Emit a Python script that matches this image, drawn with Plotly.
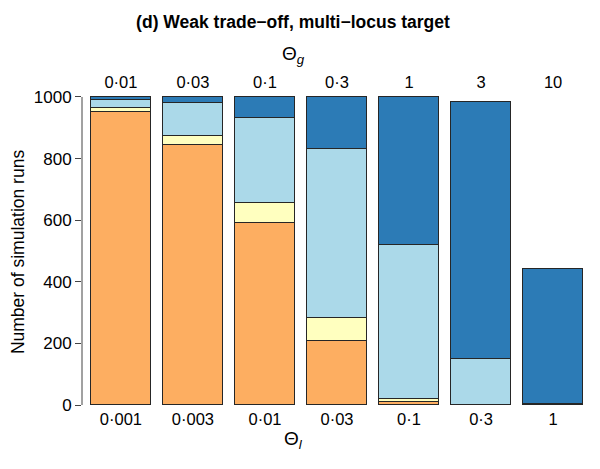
import plotly.graph_objects as go

theta_l = ["0·001", "0·003", "0·01", "0·03", "0·1", "0·3", "1"]
theta_g = ["0·01", "0·03", "0·1", "0·3", "1", "3", "10"]

orange = [950, 845, 590, 209, 10, 0, 0]
yellow = [13, 27, 65, 72, 8, 0, 0]
lightblue = [27, 108, 278, 549, 503, 149, 3]
darkblue = [10, 20, 67, 170, 479, 834, 437]

series = [
    ("orange", orange, "#FDAE61"),
    ("yellow", yellow, "#FFFFBF"),
    ("lightblue", lightblue, "#ABD9E9"),
    ("darkblue", darkblue, "#2C7BB6"),
]

xpos = list(range(len(theta_l)))
FONT = "Liberation Sans, Arial, Helvetica, sans-serif"

fig = go.Figure()
for name, vals, col in series:
    fig.add_trace(go.Bar(
        x=xpos, y=vals, name=name, width=0.833,
        marker=dict(color=col, line=dict(color="#262626", width=1)),
        showlegend=False, hoverinfo="skip",
    ))

# invisible helper trace so the top (Theta_g) axis is drawn
fig.add_trace(go.Scatter(x=xpos, y=[0] * len(xpos), xaxis="x2", yaxis="y",
                         mode="markers", marker=dict(opacity=0),
                         showlegend=False, hoverinfo="skip"))

W, H = 592, 461  # page body adds an 8px offset
L, R, T, B = 74, 8, 84, 57
PW, PH = W - L - R, H - T - B
xr = [-0.54, 6.54]
fig.update_layout(
    width=W, height=H,
    margin=dict(l=L, r=R, t=T, b=B, autoexpand=False),
    paper_bgcolor="white", plot_bgcolor="white",
    barmode="stack", bargap=0,
    font=dict(family=FONT, size=16, color="black"),
    title=dict(text="<b>(d) Weak trade\u2212off, multi\u2212locus target</b>",
               x=285 / W, xanchor="center", y=1 - 14 / H, yanchor="middle",
               font=dict(size=17.5, family=FONT)),
    xaxis=dict(range=xr, tickmode="array", tickvals=xpos, ticktext=theta_l,
               showline=False, showgrid=False, zeroline=False, ticks="",
               ticklabelstandoff=-5,
               automargin=False, tickfont=dict(size=16.5)),
    xaxis2=dict(range=xr, overlaying="x", side="top", anchor="y",
                tickmode="array", tickvals=xpos, ticktext=theta_g,
                showline=False, showgrid=False, zeroline=False, ticks="",
                automargin=False, tickfont=dict(size=16.5)),
    yaxis=dict(range=[-22.7, 1016.2], tickmode="array",
               tickvals=[0, 200, 400, 600, 800, 1000],
               ticktext=["0", "200", "400", "600", "800", "1000"],
               ticks="outside", ticklen=6, tickcolor="#444", tickwidth=1,
               showline=False, showgrid=False, zeroline=False,
               automargin=False, tickfont=dict(size=17),
               title=dict(text="Number of simulation runs", font=dict(size=17.5), standoff=9)),
)

cx = (285 - L) / PW
fig.add_annotation(text="\u0398<sub><i>g</i></sub>", xref="paper", yref="paper",
                   x=cx, y=1 + (T - 47) / PH, xanchor="center", yanchor="middle",
                   showarrow=False, font=dict(size=19))
fig.add_annotation(text="\u0398<sub><i>l</i></sub>", xref="paper", yref="paper",
                   x=cx, y=-(432 - (H - B)) / PH, xanchor="center", yanchor="middle",
                   showarrow=False, font=dict(size=19))

fig.add_shape(type="line", xref="paper", yref="y", x0=0, x1=0, y0=0, y1=1000,
              line=dict(color="#444", width=1))

fig.write_html("out.html")
